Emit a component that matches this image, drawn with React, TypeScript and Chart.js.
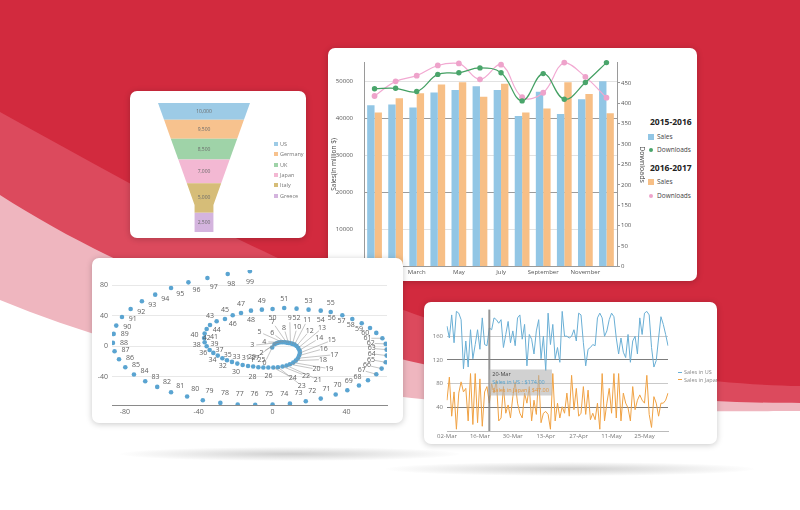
import React, { useEffect, useRef } from "react";
import { Chart, registerables, Tooltip } from "chart.js";

Chart.register(...registerables);

const FONT = "'Open Sans', 'Noto Sans', sans-serif";

// ---------------- Sales / downloads chart ----------------
const months = ["January", "February", "March", "April", "May", "June", "July", "August", "September", "October", "November", "December"];
const sales2015 = [43500, 43700, 42900, 46900, 47600, 48600, 47600, 40600, 47100, 41100, 45100, 50000];
const sales2016 = [41500, 45400, 46700, 49100, 49700, 45800, 49300, 41500, 42600, 49700, 46500, 41300];
const downloads2015 = [436, 437, 429, 471, 475, 487, 475, 406, 473, 410, 451, 500];
const downloads2016 = [418, 454, 468, 493, 498, 459, 495, 415, 426, 500, 465, 414];
const legendGroups = ["2015-2016", "2016-2017"];
const salesTicks = [0, 10000, 20000, 30000, 40000, 50000];
const downloadTicks = [0, 50, 100, 150, 200, 250, 300, 350, 400, 450];

// ---------------- Funnel ----------------
const funnelLabels = ["US", "Germany", "UK", "Japan", "Italy", "Greece"];
const funnelValues = [10000, 9500, 8500, 7000, 5000, 2500];
const funnelColors = ["#9dcbe6", "#f7c28e", "#9fd3a8", "#f3b8d3", "#d6bd78", "#d4b4de"];

// ---------------- Spiral scatter ----------------
const spiralX = [
  -0.2, 1.1, 2.2, 3.2, 4.3, 5.4, 6.5, 7.6, 8.6, 9.7,
  10.8, 11.9, 13.0, 13.9, 14.6, 14.8, 14.4, 13.7, 12.6, 11.2,
  9.4, 7.6, 5.4, 2.9, 0.4, -2.3, -5.0, -7.7, -10.5, -13.3,
  -16.2, -19.1, -22.0, -24.7, -27.2, -29.7, -32.1, -34.1, -35.7, -36.8,
  -37.1, -36.8, -35.7, -33.9, -30.3, -25.8, -21.6, -17.1, -11.7, -5.8,
  0, 6.3, 13.0, 19.5, 26.1, 31.5, 37.8, 43.2, 48.3, 52.8,
  56.2, 59.5, 61.3, 61.8, 61.8, 61.3, 59.1, 56.2, 51.7, 46.8,
  40.5, 34.2, 26.1, 18.0, 9.4, 0, -9.4, -18.9, -28.3, -37.8,
  -46.3, -55.0, -62.5, -69.0, -75.1, -79.8, -83.2, -85.6, -86.5, -86.1,
  -84.7, -81.6, -76.9, -70.8, -63.6, -55.0, -45.6, -35.3, -24.3, -12.3,
];
const spiralY = [
  -1.7, 2.6, 3.9, 4.8, 5.2, 5.2, 5.2, 4.8, 4.4, 3.9,
  3.1, 2.2, 0.4, -2.2, -5.2, -8.7, -12.2, -15.7, -18.8, -21.4,
  -23.6, -25.3, -26.6, -27.5, -27.9, -27.9, -27.9, -27.5, -26.6, -25.8,
  -24.5, -22.7, -20.5, -18.3, -15.7, -12.2, -8.7, -4.8, 0, 5.2,
  10.9, 16.6, 22.7, 27.9, 32.8, 35.8, 40.6, 43.7, 46.7, 48.0,
  48.9, 50.2, 49.3, 48.0, 46.7, 45.0, 40.6, 35.8, 30.1, 24.0,
  17.5, 10.5, 3.1, -4.4, -12.2, -21.0, -29.3, -36.7, -44.5, -51.5,
  -57.6, -63.3, -68.6, -72.1, -75.1, -76.4, -76.9, -76.4, -74.2, -70.7,
  -65.9, -60.3, -53.3, -45.9, -37.1, -27.5, -17.0, -6.6, 4.4, 16.2,
  27.1, 38.4, 48.9, 59.0, 67.7, 76.4, 83.8, 89.5, 94.8, 98.3,
];
const spiralXTicks = [-80, -40, 0, 40];
const spiralYTicks = [-40, 0, 40, 80];

// ---------------- Daily sales lines ----------------
const salesUS = [
  177, 157, 196, 149, 202, 199, 188, 105, 152, 108,
  171, 122, 146, 171, 138, 191, 146, 144, 174, 171,
  191, 188, 182, 188, 141, 163, 185, 149, 169, 144,
  191, 196, 155, 180, 110, 163, 155, 130, 169, 188,
  122, 160, 102, 199, 146, 180, 122, 141, 116, 202,
  160, 160, 157, 160, 171, 152, 199, 196, 149, 110,
  138, 141, 146, 144, 191, 199, 191, 160, 169, 188,
  199, 193, 157, 130, 157, 133, 124, 163, 116, 152,
  160, 130, 191, 163, 199, 202, 196, 141, 108, 119,
  157, 193, 180, 163, 144,
];
const salesJapan = [
  52, 91, 25, 66, 3, 64, 83, 66, 72, 17,
  97, 11, 97, 14, 88, 8, 66, 75, 47, 80,
  64, 86, 17, 22, 75, 30, 44, 22, 58, 83,
  47, 30, 22, 64, 47, 75, 17, 52, 28, 94,
  14, 30, 33, 28, 3, 97, 17, 47, 22, 41,
  30, 64, 25, 94, 36, 72, 25, 30, 75, 28,
  69, 19, 30, 19, 47, 3, 97, 17, 47, 72,
  30, 97, 22, 97, 17, 64, 47, 39, 17, 75,
  36, 52, 61, 52, 47, 94, 28, 6, 58, 47,
  25, 47, 47, 52, 64,
];
const lineSeriesNames = ["Sales in US", "Sales in Japan"];
const lineColors = ["#6aafd5", "#f0a244"];
const lineYTicks = [40, 80, 120, 160];
const monthAbbr = ["Jan", "Feb", "Mar", "Apr", "May", "Jun", "Jul", "Aug", "Sep", "Oct", "Nov", "Dec"];
const lineDates = salesUS.map((_, i) => {
  const d = new Date(Date.UTC(2017, 2, 2 + i));
  return `${String(d.getUTCDate()).padStart(2, "0")}-${monthAbbr[d.getUTCMonth()]}`;
});
const tooltipDate = "20-Mar";

// ---------------- helpers ----------------
function useChart(factory: (c: HTMLCanvasElement) => Chart) {
  const ref = useRef<HTMLCanvasElement>(null);
  useEffect(() => {
    const chart = factory(ref.current as HTMLCanvasElement);
    return () => chart.destroy();
  }, []);
  return ref;
}

const fixedTicks = (vals: number[]) => (s: any) => {
  s.ticks = vals.map((v) => ({ value: v }));
};

const cardStyle = (left: number, top: number, width: number, height: number, z: number): React.CSSProperties => ({
  position: "absolute",
  left,
  top,
  width,
  height,
  background: "#ffffff",
  borderRadius: 7,
  boxShadow: "0 1px 6px rgba(0,0,0,0.22)",
  zIndex: z,
  overflow: "hidden",
});

// ---------------- Sales chart ----------------
function SalesCard() {
  const ref = useChart((canvas) =>
    new Chart(canvas, {
      type: "bar",
      data: {
        labels: months,
        datasets: [
          {
            type: "line",
            label: `Downloads ${legendGroups[0]}`,
            data: downloads2015,
            yAxisID: "y1",
            borderColor: "#44a063",
            backgroundColor: "#4aa56b",
            pointBackgroundColor: "#4aa56b",
            pointBorderWidth: 0,
            pointRadius: 2.7,
            borderWidth: 1.2,
            tension: 0.4,
            clip: false,
            order: 0,
          } as any,
          {
            type: "line",
            label: `Downloads ${legendGroups[1]}`,
            data: downloads2016,
            yAxisID: "y1",
            borderColor: "#f2a9d2",
            backgroundColor: "#eea3cb",
            pointBackgroundColor: "#eea3cb",
            pointBorderWidth: 0,
            pointRadius: 2.9,
            borderWidth: 1.2,
            tension: 0.4,
            clip: false,
            order: 0,
          } as any,
          {
            type: "bar",
            label: `Sales ${legendGroups[0]}`,
            data: sales2015,
            yAxisID: "y",
            backgroundColor: "#92c6e5",
            categoryPercentage: 0.7,
            barPercentage: 1,
            order: 1,
          },
          {
            type: "bar",
            label: `Sales ${legendGroups[1]}`,
            data: sales2016,
            yAxisID: "y",
            backgroundColor: "#f7bf86",
            categoryPercentage: 0.7,
            barPercentage: 1,
            order: 1,
          },
        ],
      },
      options: {
        responsive: false,
        animation: false,
        events: [],
        layout: { padding: { top: 8, left: 0, right: 0, bottom: 0 } },
        plugins: { legend: { display: false }, tooltip: { enabled: false } },
        scales: {
          x: {
            grid: { display: false, drawTicks: false, tickLength: 0 },
            border: { color: "#9a9a9a" },
            ticks: {
              autoSkip: false,
              maxRotation: 0,
              padding: 2,
              color: "#555",
              font: { size: 6, family: FONT },
              callback: (_v: any, i: number) => (i % 2 === 0 ? months[i] : ""),
            },
            afterFit: (s: any) => {
              s.height = 14;
            },
          },
          y: {
            position: "left",
            min: 0,
            max: 55000,
            afterBuildTicks: fixedTicks(salesTicks),
            ticks: { padding: 11, color: "#555", font: { size: 6, family: FONT }, callback: (v: any) => String(v) },
            grid: {
              drawTicks: false,
              color: (c: any) => (c.tick && (c.tick.value === 40000 || c.tick.value === 20000) ? "#9c9c9c" : "#e2e2e2"),
            },
            border: { color: "#9a9a9a" },
            title: { display: true, text: "Sales(in million $)", color: "#444", font: { size: 6.5, family: FONT }, padding: { top: 2, bottom: 0 } },
            afterFit: (s: any) => {
              s.width = 36;
            },
          },
          y1: {
            position: "right",
            min: 0,
            max: 500,
            afterBuildTicks: fixedTicks(downloadTicks),
            ticks: { padding: 1, color: "#555", font: { size: 6, family: FONT } },
            grid: { drawOnChartArea: false, drawTicks: true, tickLength: 3, color: "#9a9a9a" },
            border: { color: "#9a9a9a" },
            title: { display: true, text: "Downloads", color: "#444", font: { size: 7, family: FONT }, padding: { top: 2, bottom: 3 } },
            afterFit: (s: any) => {
              s.width = 31;
            },
          },
        },
      },
    })
  );

  const title: React.CSSProperties = { position: "absolute", left: 322, fontFamily: FONT, fontWeight: 700, fontSize: 8.5, color: "#222", lineHeight: "10px", whiteSpace: "nowrap" };
  const item: React.CSSProperties = { position: "absolute", left: 320, fontFamily: FONT, fontSize: 6.5, color: "#444", lineHeight: "8px", whiteSpace: "nowrap", display: "flex", alignItems: "center" };
  const sq = (c: string): React.CSSProperties => ({ width: 6, height: 6, background: c, marginRight: 3, display: "inline-block" });
  const dot = (c: string): React.CSSProperties => ({ width: 4, height: 4, borderRadius: 2, background: c, margin: "0 4px 0 1px", display: "inline-block" });

  return (
    <div style={cardStyle(328, 48, 369, 233, 1)}>
      <canvas ref={ref} width={320} height={233} style={{ position: "absolute", left: 0, top: 0 }} />
      <div style={{ ...title, top: 69 }}>{legendGroups[0]}</div>
      <div style={{ ...item, top: 85 }}><span style={sq("#92c6e5")} />Sales</div>
      <div style={{ ...item, top: 98 }}><span style={dot("#4aa56b")} />Downloads</div>
      <div style={{ ...title, top: 115 }}>{legendGroups[1]}</div>
      <div style={{ ...item, top: 130 }}><span style={sq("#f7bf86")} />Sales</div>
      <div style={{ ...item, top: 144 }}><span style={dot("#eea3cb")} />Downloads</div>
    </div>
  );
}

// ---------------- Funnel ----------------
const funnelPlugin = {
  id: "funnelShape",
  beforeDatasetsDraw(chart: any) {
    const { ctx, scales } = chart;
    const x = scales.x;
    const y = scales.y;
    const ds = chart.data.datasets[0];
    const vals: number[] = ds.data as number[];
    const total = vals.reduce((a, b) => a + b, 0);
    const neckW = 0.205;
    const neckH = 0.21;
    const yn = 1 - neckH;
    const width = (t: number) => (t <= yn ? 1 - ((1 - neckW) * t) / yn : neckW);
    const F = (t: number): number =>
      t <= yn ? t - ((1 - neckW) * t * t) / (2 * yn) : yn - ((1 - neckW) * yn) / 2 + neckW * (t - yn);
    const A = F(1);
    const inv = (a: number) => {
      let lo = 0, hi = 1;
      for (let k = 0; k < 50; k++) {
        const m = (lo + hi) / 2;
        if (F(m) < a) lo = m; else hi = m;
      }
      return (lo + hi) / 2;
    };
    let cum = 0;
    let t0 = 0;
    ctx.save();
    vals.forEach((v, i) => {
      cum += v;
      const t1 = i === vals.length - 1 ? 1 : inv((cum / total) * A);
      const ts = [t0];
      if (t0 < yn && t1 > yn) ts.push(yn);
      ts.push(t1);
      ctx.beginPath();
      ts.forEach((t, k) => {
        const px = x.getPixelForValue(-width(t) / 2);
        const py = y.getPixelForValue(t);
        if (k === 0) ctx.moveTo(px, py); else ctx.lineTo(px, py);
      });
      ts.slice().reverse().forEach((t) => ctx.lineTo(x.getPixelForValue(width(t) / 2), y.getPixelForValue(t)));
      ctx.closePath();
      ctx.fillStyle = ds.backgroundColor[i];
      ctx.fill();
      ctx.fillStyle = "#6a6a6a";
      ctx.font = `5px ${FONT}`;
      ctx.textAlign = "center";
      ctx.textBaseline = "middle";
      ctx.fillText(v.toLocaleString("en-US"), x.getPixelForValue(0), y.getPixelForValue((t0 + t1) / 2));
      t0 = t1;
    });
    ctx.restore();
    return false;
  },
};

function FunnelCard() {
  const ref = useChart((canvas) =>
    new Chart(canvas, {
      type: "bar",
      data: { labels: funnelLabels, datasets: [{ data: funnelValues, backgroundColor: funnelColors }] },
      options: {
        responsive: false,
        animation: false,
        events: [],
        layout: { padding: { left: 5, right: 33, top: 12, bottom: 6 } },
        plugins: { legend: { display: false }, tooltip: { enabled: false } },
        scales: {
          x: { type: "linear", min: -0.5, max: 0.5, display: false },
          y: { type: "linear", min: 0, max: 1, reverse: true, display: false },
        },
      },
      plugins: [funnelPlugin],
    })
  );
  return (
    <div style={cardStyle(130, 91, 176, 147, 2)}>
      <canvas ref={ref} width={176} height={147} style={{ position: "absolute", left: 0, top: 0 }} />
      {funnelLabels.map((l, i) => (
        <div
          key={l}
          style={{
            position: "absolute",
            left: 144,
            top: 50 + i * 10.3,
            fontFamily: FONT,
            fontSize: 5.5,
            color: "#777",
            lineHeight: "6px",
            display: "flex",
            alignItems: "center",
            whiteSpace: "nowrap",
          }}
        >
          <span style={{ width: 4, height: 4, background: funnelColors[i], marginRight: 2, display: "inline-block" }} />
          {l}
        </div>
      ))}
    </div>
  );
}

// ---------------- Spiral scatter ----------------
const spiralLabelPlugin = {
  id: "spiralLabels",
  afterDatasetsDraw(chart: any) {
    const { ctx } = chart;
    const xs = chart.scales.x;
    const ys = chart.scales.y;
    const meta = chart.getDatasetMeta(0);
    const outerC = { x: xs.getPixelForValue(-12), y: ys.getPixelForValue(10) };
    const midC = { x: xs.getPixelForValue(-10), y: ys.getPixelForValue(-8) };
    const loopC = { x: xs.getPixelForValue(11), y: ys.getPixelForValue(-8) };
    ctx.save();
    ctx.font = `7px ${FONT}`;
    ctx.textAlign = "center";
    ctx.textBaseline = "middle";
    meta.data.forEach((pt: any, i: number) => {
      const px = pt.x;
      const py = pt.y;
      let lx: number;
      let ly: number;
      let leader = false;
      if (i < 25) {
        const a = ((205 - (i * 295) / 24) * Math.PI) / 180;
        const f = i % 2 ? 1.22 : 0.92;
        lx = loopC.x + 34 * f * Math.cos(a);
        ly = loopC.y - 28 * f * Math.sin(a);
        leader = true;
      } else if (i < 42) {
        let dx = px - midC.x;
        let dy = py - midC.y;
        const d = Math.hypot(dx, dy) || 1;
        dx /= d;
        dy /= d;
        const s = i % 2 === 0 ? 1 : -1;
        lx = px + dx * 10 * s;
        ly = py + dy * 10 * s;
      } else if (i < 56) {
        lx = px;
        ly = py + (i % 2 === 0 ? 9 : -9);
      } else {
        let dx = outerC.x - px;
        let dy = outerC.y - py;
        const d = Math.hypot(dx, dy) || 1;
        dx /= d;
        dy /= d;
        const r = i >= 61 && i <= 67 ? 15 : 11;
        lx = px + dx * r;
        ly = py + dy * r;
        if (r > 11) leader = true;
      }
      if (leader) {
        const dx = lx - px;
        const dy = ly - py;
        const d = Math.hypot(dx, dy) || 1;
        ctx.strokeStyle = "#8a8a8a";
        ctx.lineWidth = 0.5;
        ctx.beginPath();
        ctx.moveTo(px, py);
        ctx.lineTo(lx - (dx / d) * 4, ly - (dy / d) * 4);
        ctx.stroke();
      }
      ctx.fillStyle = "#5e5e5e";
      ctx.fillText(String(i), lx, ly);
    });
    ctx.restore();
  },
};

function SpiralCard() {
  const ref = useChart((canvas) =>
    new Chart(canvas, {
      type: "scatter",
      data: {
        datasets: [
          {
            data: spiralX.map((x, i) => ({ x, y: spiralY[i] })),
            backgroundColor: "#5aa4d1",
            pointRadius: 2.3,
            pointBorderWidth: 0,
          },
        ],
      },
      options: {
        responsive: false,
        animation: false,
        events: [],
        layout: { padding: { top: 12, right: 16, left: 0, bottom: 0 } },
        plugins: { legend: { display: false }, tooltip: { enabled: false } },
        scales: {
          x: {
            type: "linear",
            min: -87,
            max: 62,
            afterBuildTicks: fixedTicks(spiralXTicks),
            grid: { display: false, drawTicks: false, tickLength: 0 },
            border: { color: "#8a8a8a" },
            ticks: { padding: 3, color: "#666", font: { size: 7, family: FONT } },
            afterFit: (s: any) => {
              s.height = 18;
            },
          },
          y: {
            type: "linear",
            min: -77,
            max: 100,
            afterBuildTicks: fixedTicks(spiralYTicks),
            grid: { color: "#e8e8e8", drawTicks: false },
            border: { display: false },
            ticks: { padding: 4, color: "#666", font: { size: 7, family: FONT } },
            afterFit: (s: any) => {
              s.width = 20;
            },
          },
        },
      },
      plugins: [spiralLabelPlugin],
    })
  );
  return (
    <div style={cardStyle(92, 258, 311, 165, 3)}>
      <canvas ref={ref} width={311} height={165} style={{ position: "absolute", left: 0, top: 0 }} />
    </div>
  );
}

// ---------------- Daily lines ----------------
(Tooltip.positioners as any).crosshair = function (items: any[]) {
  if (!items.length) return false;
  const ch = (this as any).chart;
  return { x: items[0].element.x, y: ch.chartArea.top + 60, xAlign: "left", yAlign: "top" };
};

const crosshairPlugin = {
  id: "crosshair",
  afterDatasetsDraw(chart: any) {
    const idx = chart.data.labels.indexOf(tooltipDate);
    if (idx < 0) return;
    const x = chart.getDatasetMeta(0).data[idx].x;
    const { top, bottom } = chart.chartArea;
    const ctx = chart.ctx;
    ctx.save();
    ctx.strokeStyle = "rgba(130,130,130,0.85)";
    ctx.lineWidth = 2;
    ctx.beginPath();
    ctx.moveTo(x, top);
    ctx.lineTo(x, bottom);
    ctx.stroke();
    ctx.restore();
  },
};

function LinesCard() {
  const ref = useChart((canvas) => {
    const chart = new Chart(canvas, {
      type: "line",
      data: {
        labels: lineDates,
        datasets: [
          { label: lineSeriesNames[0], data: salesUS, borderColor: lineColors[0], backgroundColor: lineColors[0], borderWidth: 1, pointRadius: 0, pointHoverRadius: 0 },
          { label: lineSeriesNames[1], data: salesJapan, borderColor: lineColors[1], backgroundColor: lineColors[1], borderWidth: 1, pointRadius: 0, pointHoverRadius: 0 },
        ],
      },
      options: {
        responsive: false,
        animation: false,
        events: [],
        interaction: { mode: "index", intersect: false },
        layout: { padding: { top: 3, right: 49, left: 0, bottom: 0 } },
        plugins: {
          legend: { display: false },
          tooltip: {
            enabled: true,
            position: "crosshair" as any,
            caretSize: 0,
            caretPadding: 0,
            cornerRadius: 0,
            backgroundColor: "rgba(178,178,178,0.6)",
            titleColor: "#444",
            titleFont: { size: 5.5, weight: "normal", family: FONT },
            bodyFont: { size: 5.5, family: FONT },
            padding: { x: 3, y: 2 } as any,
            titleMarginBottom: 1,
            bodySpacing: 1,
            displayColors: false,
            callbacks: {
              label: (c: any) => `${c.dataset.label} : $${Number(c.parsed.y).toFixed(2)}`,
              labelTextColor: (c: any) => (c.datasetIndex === 0 ? "#4f9fcc" : "#e8963a"),
            },
          },
        },
        scales: {
          x: {
            grid: { display: false, drawTicks: false, tickLength: 0 },
            border: { color: "#bbbbbb" },
            ticks: { autoSkip: false, maxRotation: 0, padding: 2, color: "#777", font: { size: 6, family: FONT } },
            afterBuildTicks: (s: any) => {
              s.ticks = s.ticks.filter((t: any) => t.value % 14 === 0);
            },
            afterFit: (s: any) => {
              s.height = 13;
            },
          },
          y: {
            min: 0,
            max: 205,
            afterBuildTicks: fixedTicks(lineYTicks),
            ticks: { padding: 4, color: "#777", font: { size: 6, family: FONT } },
            grid: {
              drawTicks: false,
              color: (c: any) => (c.tick && (c.tick.value === 120 || c.tick.value === 40) ? "#7d7d7d" : "#c9c9c9"),
            },
            border: { display: false },
            afterFit: (s: any) => {
              s.width = 23;
            },
          },
        },
      },
      plugins: [crosshairPlugin],
    });
    const idx = lineDates.indexOf(tooltipDate);
    const els = [
      { datasetIndex: 0, index: idx },
      { datasetIndex: 1, index: idx },
    ];
    const pt = chart.getDatasetMeta(0).data[idx] as any;
    chart.tooltip?.setActiveElements(els, { x: pt.x, y: pt.y });
    chart.update();
    return chart;
  });
  return (
    <div style={cardStyle(424, 302, 293, 142, 3)}>
      <canvas ref={ref} width={293} height={142} style={{ position: "absolute", left: 0, top: 0 }} />
      {lineSeriesNames.map((n, i) => (
        <div
          key={n}
          style={{
            position: "absolute",
            left: 254,
            top: 67 + i * 7.5,
            fontFamily: FONT,
            fontSize: 5.5,
            color: "#8a8a8a",
            lineHeight: "6px",
            display: "flex",
            alignItems: "center",
            whiteSpace: "nowrap",
          }}
        >
          <span style={{ width: 4, height: 1, background: lineColors[i], marginRight: 2, display: "inline-block" }} />
          {n}
        </div>
      ))}
    </div>
  );
}

// ---------------- Page ----------------
export default function App() {
  useEffect(() => {
    document.body.style.margin = "0";
  }, []);
  return (
    <div style={{ position: "relative", width: 800, height: 510, overflow: "hidden", background: "#ffffff" }}>
      <svg width={800} height={510} style={{ position: "absolute", left: 0, top: 0 }}>
        <rect x={0} y={0} width={800} height={510} fill="#d22a3e" />
        <path d="M0,112 C160,200 330,300 540,352 C650,378 740,385 800,386 L800,510 L0,510 Z" fill="#dc4a5d" />
        <path d="M0,195 C140,285 340,360 560,388 C680,402 760,403 800,403 L800,510 L0,510 Z" fill="#efb6bf" />
        <path d="M0,300 C170,370 380,405 600,410 C700,412 770,411 800,411 L800,510 L0,510 Z" fill="#ffffff" />
      </svg>
      <div
        style={{
          position: "absolute",
          left: 120,
          top: 447,
          width: 340,
          height: 14,
          borderRadius: "50%",
          background: "radial-gradient(ellipse at center, rgba(120,120,120,0.35) 0%, rgba(160,160,160,0.15) 50%, rgba(255,255,255,0) 72%)",
        }}
      />
      <div
        style={{
          position: "absolute",
          left: 385,
          top: 462,
          width: 370,
          height: 14,
          borderRadius: "50%",
          background: "radial-gradient(ellipse at center, rgba(120,120,120,0.35) 0%, rgba(160,160,160,0.15) 50%, rgba(255,255,255,0) 72%)",
        }}
      />
      <SalesCard />
      <FunnelCard />
      <SpiralCard />
      <LinesCard />
    </div>
  );
}
